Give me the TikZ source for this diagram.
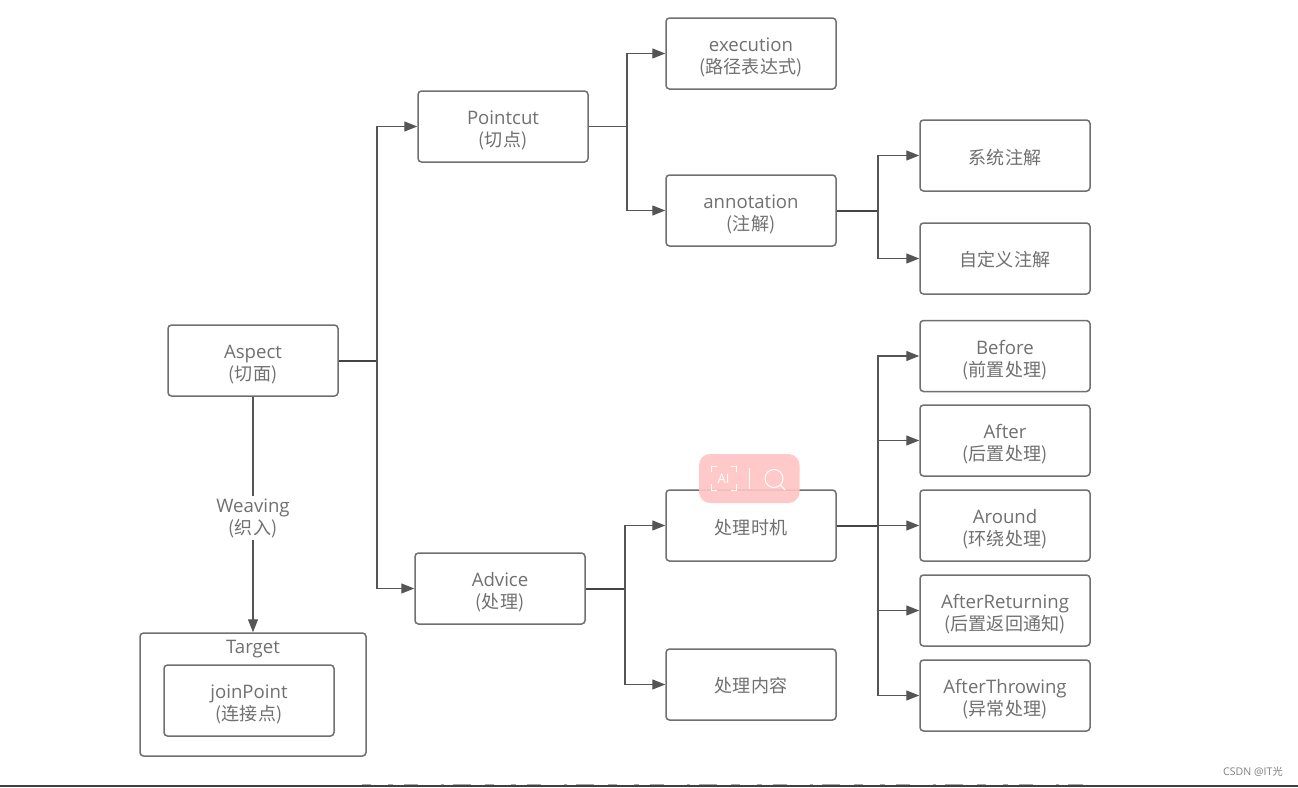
\documentclass[tikz,border=0pt]{standalone}
\usepackage{fontspec}
\setmainfont{Open Sans}
\newfontfamily\cjk[Scale=0.97]{Noto Sans CJK SC}
\usetikzlibrary{arrows.meta}
\definecolor{linec}{HTML}{555555}
\definecolor{textc}{HTML}{707070}
\definecolor{boxc}{HTML}{707070}
\definecolor{pinkc}{HTML}{FFC4C4}
\newcommand{\zh}[1]{{\cjk #1}}
\newcommand{\tl}[2][-4pt]{\raisebox{#1}[\height][\depth]{#2}}
\tikzset{
  box/.style={draw=boxc,line width=1.5pt,rounded corners=3.5pt,fill=white,minimum width=170pt,minimum height=71pt,inner sep=0pt,align=center,text=textc,font=\fontsize{18.6}{22}\selectfont},
  outerbox/.style={draw=boxc,line width=1.5pt,rounded corners=3.5pt,minimum width=226pt,minimum height=123pt,inner sep=0pt},
  plain/.style={inner sep=0pt,align=center,text=textc,font=\fontsize{18.6}{22}\selectfont},
  conn/.style={draw=linec,line width=1.3pt},
  stub/.style={draw=linec!80!black,line width=2pt},
  arr/.style={conn,-{Triangle[length=13pt,width=10pt]}},
}
\begin{document}
\begin{tikzpicture}[x=1pt,y=-1pt]
\useasboundingbox (0,0) rectangle (1298,787);
\fill[white] (0,0) rectangle (1298,787);

\node[outerbox] (target) at (253,694.5) {};
\node[plain] (targetlabel) at (253,649.5) {Target};
\node[box] (join) at (249,700.5) {\tl{joinPoint}\\\tl{\zh{(连接点)}}};

\node[box] (aspect) at (253,360.5) {\tl{Aspect}\\\tl{\zh{(切面)}}};
\node[box] (pointcut) at (503,126.5) {\tl{Pointcut}\\\tl{\zh{(切点)}}};
\node[box] (advice) at (500,588.5) {\tl{Advice}\\\tl{\zh{(处理)}}};
\node[box] (execution) at (751,53.5) {\tl{execution}\\\tl{\zh{(路径表达式)}}};
\node[box] (annotation) at (751,210.5) {\tl{annotation}\\\tl{\zh{(注解)}}};
\node[box] (timing) at (751,525.5) {\tl[-2pt]{\zh{处理时机}}};
\node[box] (content) at (751,684.5) {\tl[-1pt]{\zh{处理内容}}};
\node[box] (sysanno) at (1005,155.5) {\tl[-2pt]{\zh{系统注解}}};
\node[box] (customanno) at (1005,258.5) {\tl[-1pt]{\zh{自定义注解}}};
\node[box] (before) at (1005,356) {\tl{Before}\\\tl{\zh{(前置处理)}}};
\node[box] (after) at (1005,440.5) {\tl{After}\\\tl{\zh{(后置处理)}}};
\node[box] (around) at (1005,525.5) {\tl{Around}\\\tl{\zh{(环绕处理)}}};
\node[box] (afterret) at (1005,610.5) {\tl{AfterReturning}\\\tl{\zh{(后置返回通知)}}};
\node[box] (afterthrow) at (1005,695.5) {\tl{AfterThrowing}\\\tl{\zh{(异常处理)}}};
\node[plain,fill=white,inner ysep=2pt] (weaving) at (253,518) {Weaving\\\zh{(织入)}};

\coordinate (ja) at (377,360.5);
\coordinate (jb) at (627,126.5);
\coordinate (jc) at (878,210.5);
\coordinate (jd) at (625,588.5);
\coordinate (je) at (878,525.5);

\draw[stub] (aspect.east) -- (ja);
\draw[arr] (ja) |- (pointcut.west);
\draw[arr] (ja) |- (advice.west);
\draw[conn] (pointcut.east) -- (jb);
\draw[arr] (jb) |- (execution.west);
\draw[arr] (jb) |- (annotation.west);
\draw[stub] (annotation.east) -- (jc);
\draw[arr] (jc) |- (sysanno.west);
\draw[arr] (jc) |- (customanno.west);
\draw[stub] (advice.east) -- (jd);
\draw[arr] (jd) |- (timing.west);
\draw[arr] (jd) |- (content.west);
\draw[stub] (timing.east) -- (je);
\draw[arr] (je) |- (before.west);
\draw[arr] (je) |- (after.west);
\draw[arr] (je) -- (around.west);
\draw[arr] (je) |- (afterret.west);
\draw[arr] (je) |- (afterthrow.west);
\draw[conn] (aspect.south) -- (weaving.north);
\draw[arr] (weaving.south) -- (target.north);

% floating pink button
\fill[pinkc,fill opacity=.9,rounded corners=11pt] (699,454) rectangle (799.5,503);
\begin{scope}[draw=white,line width=1pt]
  \draw (711,472) |- (717,466.5) (731,466.5) -| (736,472) (736,484) |- (731,490) (717,490) -| (711,484);
  \draw (749.5,468) -- (749.5,489);
  \draw (774,478.5) circle (9pt);
  \draw (780.5,485) -- (785,490);
\end{scope}
\node[inner sep=0pt,text=white,font=\fontsize{13}{13}\selectfont] (ai) at (723.5,478.5) {AI};

% bottom of the screenshot
\fill[black!75] (0,785) rectangle (1298,787);
\draw[black!35,line width=.8pt,dash pattern=on 9pt off 17pt on 5pt off 11pt on 14pt off 23pt on 3pt off 9pt on 18pt off 14pt] (362,784.6) -- (1083,784.6);
\node[inner sep=0pt,anchor=east,text=black!50,font=\fontsize{10.6}{10.6}\selectfont] (credit) at (1283,772) {CSDN @IT\zh{光}};
\end{tikzpicture}
\end{document}
